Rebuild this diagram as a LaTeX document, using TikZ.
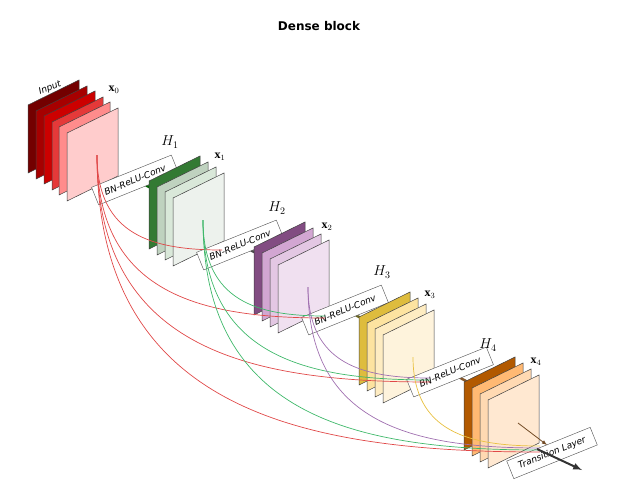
\documentclass[tikz,border=0pt]{standalone}
\usepackage{fontspec}
\setmainfont{Liberation Serif}
\setsansfont{DejaVu Sans}
\usetikzlibrary{calc}
\definecolor{cR}{HTML}{E04848}
\definecolor{cG}{HTML}{3FB86A}
\definecolor{cP}{HTML}{A070B0}
\definecolor{cY}{HTML}{E8C040}
\newcommand{\sheet}[3]{\filldraw[fill=#3,draw=black!75,line width=0.5pt] (#1,#2) -- ++(51,-25) -- ++(0,68) -- ++(-51,25) -- cycle;}
\newcommand{\skipcurve}[5]{%
  \pgfmathsetmacro{\ca}{#2+0.85*(#4-#2)}%
  \pgfmathsetmacro{\cb}{#3-0.55*(#3-#1)}%
  \draw[#5,line width=0.7pt] (#1,#2) .. controls (#1,\ca) and (\cb,#4) .. (#3,#4);}
\tikzset{bnbox/.style={draw=black!70,fill=white,rotate=22,minimum width=86pt,minimum height=19pt,inner sep=1pt,font=\sffamily\itshape\small},
lab/.style={font=\large},hlab/.style={font=\Large\itshape}}
\begin{document}
\begin{tikzpicture}[x=1pt,y=-1pt]
\useasboundingbox (0,0) rectangle (637,496);
\node[font=\sffamily\bfseries\large] (title) at (319,26) {Dense block};
% block 0
\sheet{28}{105}{red!45!black}
\sheet{36}{111}{red!65!black}
\sheet{44}{116}{red!80!black}
\sheet{52}{122}{red!75!white!90!black}
\sheet{59}{127}{red!45}
\sheet{67}{133}{red!20}
\node[rotate=22,font=\sffamily\itshape\small] (input) at (50,88) {Input};
\node[lab] (x0) at (114,90) {$\mathbf{x}_0$};
% H1
\draw[green!40!black,line width=2.5pt] (140,182) -- (160,193);
\node[bnbox] (h1box) at (135,180) {BN-ReLU-Conv};
\node[hlab] (h1) at (170,142) {$H_1$};
\sheet{149}{181}{green!35!black!80}
\sheet{157}{187}{green!30!black!25}
\sheet{165}{192}{green!40!black!15}
\sheet{173}{198}{green!25!black!7}
\node[lab] (x1) at (220,157) {$\mathbf{x}_1$};
% H2
\draw[black!70,line width=2.5pt] (245,247) -- (265,258);
\node[bnbox] (h2box) at (240,245) {BN-ReLU-Conv};
\node[hlab] (h2) at (277,208) {$H_2$};
\sheet{254}{247}{violet!60!black!70}
\sheet{262}{253}{violet!35}
\sheet{270}{259}{violet!22}
\sheet{278}{265}{violet!12}
\node[lab] (x2) at (327,227) {$\mathbf{x}_2$};
% H3
\draw[olive!70!black,line width=2.5pt] (350,312) -- (370,323);
\node[bnbox] (h3box) at (345,310) {BN-ReLU-Conv};
\node[hlab] (h3) at (382,272) {$H_3$};
\sheet{359}{317}{yellow!45!brown}
\sheet{367}{323}{yellow!45!orange!35}
\sheet{375}{329}{yellow!40!orange!22}
\sheet{383}{335}{yellow!30!orange!12}
\node[lab] (x3) at (430,295) {$\mathbf{x}_3$};
% H4
\draw[brown!70!black,line width=2.5pt] (455,375) -- (475,386);
\node[bnbox] (h4box) at (450,372) {BN-ReLU-Conv};
\node[hlab] (h4) at (488,345) {$H_4$};
\sheet{464}{382}{orange!70!black}
\sheet{472}{388}{orange!55}
\sheet{480}{394}{orange!30}
\sheet{488}{400}{orange!18}
\node[lab] (x4) at (536,362) {$\mathbf{x}_4$};
% transition
\node[bnbox,minimum width=90pt] (trans) at (552,453) {Transition Layer};
% sources
\coordinate (s0) at (97,155);
\coordinate (s1) at (203,220);
\coordinate (s2) at (308,287);
\coordinate (s3) at (413,357);
\coordinate (s4) at (518,423);
% skip connections
\skipcurve{97}{155}{222}{250}{cR}
\skipcurve{97}{155}{325}{318}{cR}
\skipcurve{97}{155}{430}{382}{cR}
\skipcurve{97}{155}{540}{452}{cR}
\skipcurve{203}{220}{325}{316}{cG}
\skipcurve{203}{220}{430}{380}{cG}
\skipcurve{203}{220}{540}{450}{cG}
\skipcurve{308}{287}{430}{378}{cP}
\skipcurve{308}{287}{540}{448}{cP}
\skipcurve{413}{357}{540}{446}{cY}
\draw[brown!60!black,line width=0.8pt,-latex] (s4) -- ($(trans.center)+(-5,-8)$);
\draw[black!80,line width=2pt,-latex] ($(trans.center)+(-15,-4)$) -- (582,470);
\end{tikzpicture}
\end{document}
